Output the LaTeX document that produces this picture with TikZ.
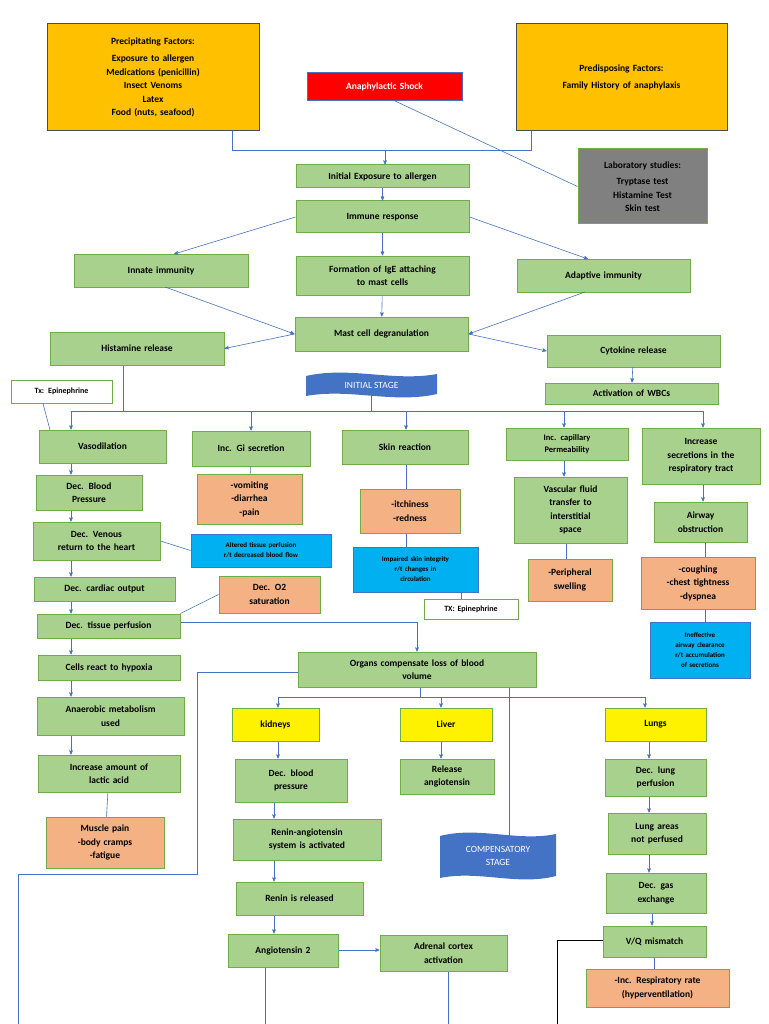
\documentclass[tikz,border=0pt]{standalone}
\usepackage{fontspec}
\setmainfont{Carlito}
\usetikzlibrary{arrows,calc}
\definecolor{gfill}{HTML}{A9D18E}
\definecolor{gline}{HTML}{70AD47}
\definecolor{ofill}{HTML}{F4B183}
\definecolor{amber}{HTML}{FFC000}
\definecolor{cyanb}{HTML}{00B0F0}
\definecolor{lnk}{HTML}{4472C4}
\tikzset{>=stealth',
  box/.style={draw=gline,line width=1pt,fill=gfill,align=center,inner sep=1pt,
    font=\bfseries\fontsize{9.5}{13.5}\selectfont},
  sym/.style={box,fill=ofill},
  nurse/.style={box,fill=cyanb,draw=lnk,font=\bfseries\fontsize{7}{10}\selectfont},
  organ/.style={box,fill=yellow},
  factor/.style={box,fill=amber,draw=black!70},
  note/.style={box,fill=white,font=\bfseries\fontsize{8}{10}\selectfont},
  link/.style={draw=lnk,line width=0.6pt},
  flow/.style={link,->}}
% box from top-left (x1,y1) to bottom-right (x2,y2), in pixels
\newcommand{\bx}[7][]{\node[box,#1,minimum width={#5pt-#3pt},minimum height={#6pt-#4pt},
  text width={#5pt-#3pt-4pt}] (#2) at ({(#3+#5)/2},{(#4+#6)/2}) {#7};}
% wavy banner
\newcommand{\wave}[6]{%
  \fill[lnk] (#2,#3+4) .. controls ({#2+(#4-#2)/3},#3-6) and ({#2+2*(#4-#2)/3},#3+10) .. (#4,#3+2)
    -- (#4,#5-4) .. controls ({#4-(#4-#2)/3},#5+6) and ({#4-2*(#4-#2)/3},#5-10) .. (#2,#5-2) -- cycle;
  \node[align=center,text=white,font=\fontsize{9.5}{13.5}\selectfont] (#1) at ({(#2+#4)/2},{(#3+#5)/2}) {#6};}
\begin{document}
\begin{tikzpicture}[x=1pt,y=-1pt]
\useasboundingbox (0,0) rectangle (768,1024);
% top
\bx[factor]{precip}{47}{24}{259}{131}{Precipitating Factors:\\[4pt] Exposure to allergen\\ Medications (penicillin)\\ Insect Venoms\\ Latex\\ Food (nuts, seafood)}
\bx[factor]{predisp}{516}{24}{727}{131}{Predisposing Factors:\\[4pt] Family History of anaphylaxis\\[12pt]}
\bx[fill=red,draw=lnk,text=white]{shock}{307}{73}{462}{101}{Anaphylactic Shock}
\bx[fill=gray,text=black]{lab}{578}{149}{707}{224}{Laboratory studies:\\[3pt] Tryptase test\\ Histamine Test\\ Skin test}
\bx{expo}{296}{165}{469}{188}{Initial Exposure to allergen}
\bx{immune}{296}{201}{469}{233}{Immune response\\[8pt]}
\bx{innate}{74}{254}{248}{287}{Innate immunity\\[8pt]}
\bx{ige}{296}{256}{469}{295}{Formation of IgE attaching\\ to mast cells}
\bx{adapt}{517}{259}{690}{292}{Adaptive immunity\\[4pt]}
\bx{mast}{295}{317}{468}{351}{Mast cell degranulation\\[8pt]}
\bx{hist}{50}{332}{224}{365}{Histamine release\\[6pt]}
\bx{cyto}{547}{335}{720}{367}{Cytokine release\\[4pt]}
\bx{wbc}{545}{383}{718}{404}{Activation of WBCs}
\wave{initial}{306}{372}{437}{398}{INITIAL STAGE}
\bx[note]{tx}{11}{380}{112}{403}{Tx: Epinephrine}
\coordinate (pj) at (232,150); \coordinate (dj) at (531,150); \coordinate (ej) at (385,150);
\draw[link] (precip.south -| pj) -- (pj) -- (dj) -- (predisp.south -| dj);
\draw[flow] (ej) -- (expo.north -| ej);
\draw[link] (395,101) -- (lab.west);
\draw[flow] (expo) -- (immune);
\draw[flow] (immune.west) -- (174,254);
\draw[flow] (immune) -- (ige);
\draw[flow] (immune.east) -- (588,259);
\draw[flow] (165,287) -- (mast.west);
\draw[flow] (ige) -- (mast);
\draw[flow] (585,292) -- (mast.east);
\draw[flow] (mast.west) -- (hist.east);
\draw[flow] (mast.east) -- (cyto.west);
\draw[flow] (cyto) -- (wbc);
% initial stage
\bx{vaso}{39}{430}{166}{463}{Vasodilation\\[6pt]}
\bx{gi}{192}{431}{310}{466}{Inc. Gi secretion}
\bx{skin}{342}{430}{468}{464}{Skin reaction\\[6pt]}
\bx[font=\bfseries\fontsize{8.5}{11.5}\selectfont]{cap}{506}{428}{628}{460}{Inc. capillary\\ Permeability}
\bx{resp}{642}{428}{760}{484}{Increase\\ secretions in the\\ respiratory tract}
\coordinate (b1) at (71,411); \coordinate (b5) at (703,411);
\draw[link] (hist.south -| 123,0) -- (123,411);
\draw[link] (initial.south) -- (initial.south |- b1);
\draw[link] (b1) -- (b5);
\draw[flow] (b1) -- (vaso.north -| b1);
\draw[flow] (251,411) -- (gi.north -| 251,0);
\draw[flow] (406,411) -- (skin.north -| 406,0);
\draw[flow] (564,411) -- (cap.north -| 564,0);
\draw[flow] (b5) -- (resp.north -| b5);
\draw[link] (tx.south -| 43,0) -- (50,430);
\bx{bp}{36}{475}{142}{510}{Dec. Blood\\ Pressure}
\bx[sym]{gisym}{197}{474}{302}{524}{-vomiting\\ -diarrhea\\ -pain}
\bx[sym]{itch}{360}{489}{460}{533}{-itchiness\\ -redness}
\bx{fluid}{514}{477}{627}{543}{Vascular fluid\\ transfer to\\ interstitial\\ space}
\bx{airway}{654}{502}{747}{542}{Airway\\ obstruction}
\bx{venous}{33}{522}{160}{560}{Dec. Venous\\ return to the heart}
\bx[nurse]{altered}{191}{534}{331}{567}{Altered tissue perfusion\\ r/t decreased blood flow}
\bx[nurse]{skinint}{353}{547}{478}{592}{Impaired skin integrity\\ r/t changes in\\ circulation}
\bx[note]{tx2}{424}{599}{518}{619}{TX: Epinephrine}
\bx[sym]{swell}{528}{559}{612}{601}{-Peripheral\\ swelling}
\bx[sym]{cough}{641}{557}{755}{609}{-coughing\\ -chest tightness\\ -dyspnea}
\bx[nurse]{clear}{650}{622}{750}{678}{Ineffective\\ airway clearance\\ r/t accumulation\\ of secretions}
\bx{cardiac}{34}{577}{175}{601}{Dec. cardiac output}
\bx[sym]{otwo}{219}{576}{320}{613}{Dec. O2\\ saturation}
\bx{tissue}{37}{614}{180}{638}{Dec. tissue perfusion}
\bx{cells}{38}{655}{180}{680}{Cells react to hypoxia}
\bx{organs}{298}{652}{536}{687}{Organs compensate loss of blood\\ volume}
\bx{anaer}{37}{697}{184}{735}{Anaerobic metabolism\\ used}
\bx{lactic}{38}{755}{180}{792}{Increase amount of\\ lactic acid}
\bx[sym]{muscle}{46}{817}{164}{868}{Muscle pain\\ -body cramps\\ -fatigue}
\foreach \a/\b in {vaso/bp,bp/venous,venous/cardiac,cardiac/tissue,tissue/cells,cells/anaer,anaer/lactic}
  \draw[flow] (\a.south -| 71,0) -- (\b.north -| 71,0);
\draw[link] (lactic) -- (muscle);
\draw[link] (gi) -- (gisym);
\draw[link] (skin.south -| 406,0) -- (itch.north -| 406,0);
\draw[link] (itch.south -| 406,0) -- (skinint.north -| 406,0);
\draw[link] (skinint.south -| 461,0) -- (tx2.north -| 461,0);
\draw[link] (venous.east) -- (altered.west);
\draw[flow] (cap.south -| 564,0) -- (fluid.north -| 564,0);
\draw[link] (fluid.south -| 566,0) -- (swell.north -| 566,0);
\draw[flow] (resp.south -| 703,0) -- (airway.north -| 703,0);
\draw[link] (airway.south -| 705,0) -- (cough.north -| 705,0);
\draw[link] (cough.south -| 705,0) -- (clear.north -| 705,0);
\draw[link] (tissue.north east) -- (otwo.west);
\coordinate (tj) at (417,622);
\draw[flow] (tissue.east |- tj) -- (tj) -- (organs.north -| tj);
% compensatory stage
\bx[organ]{kid}{232}{708}{319}{741}{kidneys\\[6pt]}
\bx[organ]{liver}{400}{708}{492}{741}{Liver\\[6pt]}
\bx[organ]{lungs}{605}{708}{706}{741}{Lungs\\[6pt]}
\bx{kbp}{235}{759}{347}{802}{Dec. blood\\ pressure}
\bx{angio}{400}{759}{494}{794}{Release\\ angiotensin}
\bx{lperf}{605}{759}{706}{796}{Dec. lung\\ perfusion}
\bx{raas}{233}{819}{381}{860}{Renin-angiotensin\\ system is activated}
\wave{comp}{440}{832}{556}{880}{COMPENSATORY\\ STAGE}
\bx{areas}{608}{813}{706}{854}{Lung areas\\ not perfused}
\bx{renin}{236}{882}{363}{915}{Renin is released\\[6pt]}
\bx{gas}{606}{873}{706}{913}{Dec. gas\\ exchange}
\bx{ang2}{228}{934}{338}{967}{Angiotensin 2\\[6pt]}
\bx{adrenal}{380}{935}{507}{971}{Adrenal cortex\\ activation}
\bx{vq}{603}{926}{706}{957}{V/Q mismatch\\[4pt]}
\bx[sym]{rr}{586}{969}{729}{1007}{-Inc. Respiratory rate\\ (hyperventilation)}
\coordinate (oj) at (420,697); \coordinate (kj) at (278,697); \coordinate (lj) at (645,697);
\draw[link] (organs.south -| oj) -- (oj);
\draw[link] (kj) -- (lj);
\draw[flow] (kj) -- (kid.north -| kj);
\draw[flow] (441,697) -- (liver.north -| 441,0);
\draw[flow] (lj) -- (lungs.north -| lj);
\draw[link] (organs.south -| 509,0) -- (509,836);
\draw[link] (organs.west |- 0,672) -- (197,672) -- (197,874) -- (18,874) -- (18,1024);
\draw[flow] (kid.south -| 278,0) -- (kbp.north -| 278,0);
\draw[flow] (kbp.south -| 274,0) -- (raas.north -| 274,0);
\draw[flow] (raas.south -| 274,0) -- (renin.north -| 274,0);
\draw[flow] (renin.south -| 274,0) -- (ang2.north -| 274,0);
\draw[flow] (ang2.east |- 0,950) -- (adrenal.west |- 0,950);
\draw[link] (ang2.south -| 265,0) -- (265,1024);
\draw[link] (adrenal.south -| 448,0) -- (448,1024);
\draw[flow] (liver.south -| 441,0) -- (angio.north -| 441,0);
\draw[flow] (lungs.south -| 649,0) -- (lperf.north -| 649,0);
\draw[flow] (lperf.south -| 649,0) -- (areas.north -| 649,0);
\draw[flow] (areas.south -| 649,0) -- (gas.north -| 649,0);
\draw[flow] (gas.south -| 652,0) -- (vq.north -| 652,0);
\draw[link] (vq.south -| 654,0) -- (rr.north -| 654,0);
\draw[black,line width=0.8pt] (vq.west |- 0,940) -- (557,940) -- (557,1024);
\end{tikzpicture}
\end{document}
